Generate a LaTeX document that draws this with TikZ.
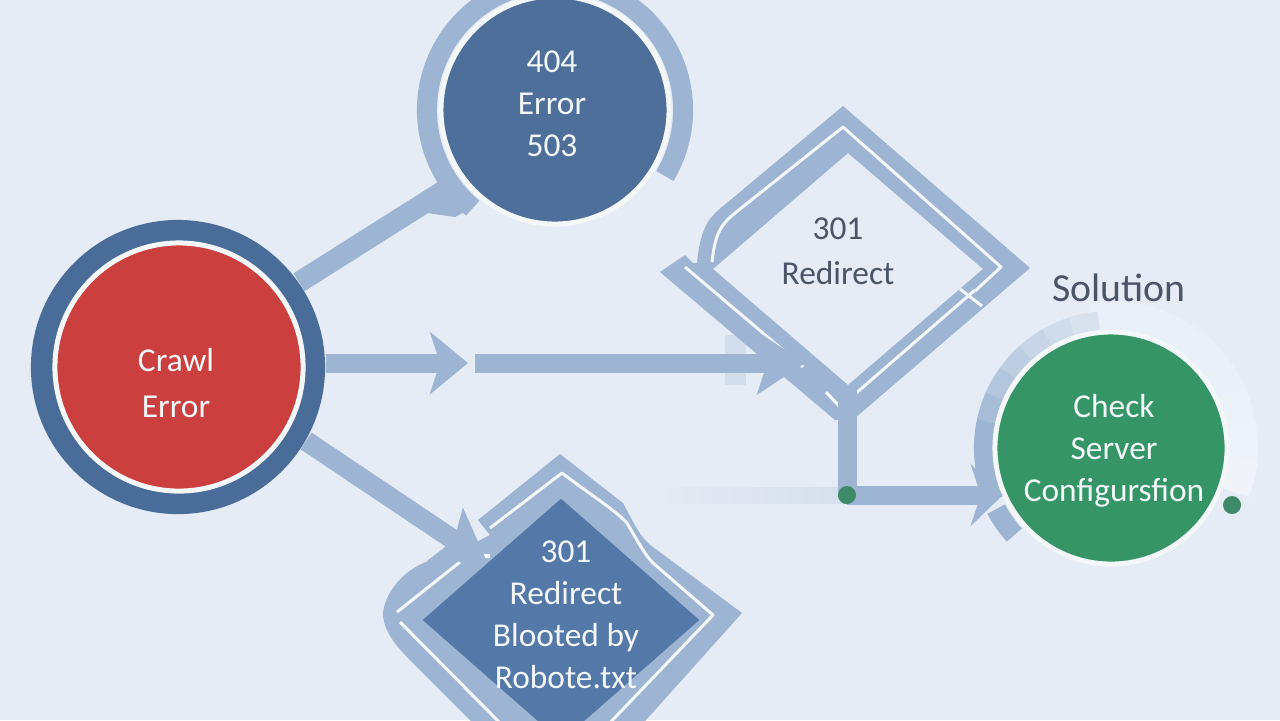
\documentclass[tikz,border=0pt]{standalone}
\usepackage{fontspec}
\setmainfont{Carlito}
\usetikzlibrary{arrows.meta,shapes.geometric}
\definecolor{bgc}{HTML}{E5ECF5}
\definecolor{bandc}{HTML}{9DB5D3}
\definecolor{ringc}{HTML}{4A6C99}
\definecolor{bluec}{HTML}{4F6F9B}
\definecolor{lowc}{HTML}{5478A7}
\definecolor{redc}{HTML}{CB3F3F}
\definecolor{greenc}{HTML}{369567}
\definecolor{dotc}{HTML}{3F8A68}
\definecolor{inkc}{HTML}{4A5568}
\definecolor{paperc}{HTML}{F3F7F8}
\tikzset{
	lbl/.style={align=center, font=\fontsize{9.5}{11.9}\selectfont, inner sep=0pt},
	lblw/.style={lbl, text=paperc},
	lbld/.style={lbl, text=inkc},
	disc/.style={circle, draw=paperc, line width=0.05cm, inner sep=0pt},
	band/.style={draw=bandc, line width=0.19cm},
	head/.style={-{Stealth[length=#1cm,width=0.62cm,inset=0.1cm]}},
	crease/.style={draw=paperc, line width=0.03cm, line join=round},
	spot/.style={circle, fill=dotc, inner sep=0pt, minimum size=0.18cm},
}
\begin{document}
\begin{tikzpicture}[x=0.01cm,y=-0.01cm]
	\clip (0,0) rectangle (1280,720);
	\fill[bgc] (0,0) rectangle (1280,720);
	\shade[left color=bgc, right color=bandc!22!bgc] (640,487) rectangle (845,503);
	\fill[bandc!25!bgc] (725,335) rectangle (746,385);

	\fill[bandc] (697,263) .. controls (700,230) and (708,218) .. (722,207) -- (843,106) -- (1030,268) -- (855,418) -- (835,420) -- (660,272) -- (685,255) -- (693,263) -- cycle;
	\fill[bandc] (478,520) -- (560,454) -- (623,503) .. controls (635,525) and (640,538) .. (653,547) -- (742,613) -- (637,730) -- (480,730) -- (410,660) .. controls (395,645) and (383,630) .. (383,613) .. controls (385,590) and (410,560) .. (447,557) -- (490,535) -- cycle;
	\draw[crease] (712,262) .. controls (715,235) and (720,225) .. (735,213) -- (843,127) -- (1001,267) -- (975,291);
	\draw[crease] (685,267) -- (803,367);
	\draw[crease] (826,392) -- (840,407) -- (975,290);
	\draw[crease] (960,289) -- (982,306);
	\draw[crease] (397,612) -- (460,562);
	\draw[crease] (490,528) -- (562,473) .. controls (595,498) and (615,510) .. (627,523) .. controls (637,540) and (645,555) .. (653,563) -- (713,615) -- (603,730);
	\draw[crease] (400,622) -- (507,730);

	\foreach \a/\m in {100/60, 85/60, 70/60, 55/60, 40/60, 25/45, 10/30, -5/15} {
		\draw[bgc!\m!white!50!bgc, line width=0.3cm] ([shift={(\a:1.3cm)}]1113,447) arc [start angle=\a, delta angle=-15.5, radius=1.3cm];
	}
	\foreach \a/\m in {204/100, 192/100, 180/100, 168/85, 156/70, 144/55, 132/42, 120/30, 108/18} {
		\draw[bandc!\m!bgc, line width=0.2cm] ([shift={(\a:1.27cm)}]1111,448) arc [start angle=\a, delta angle=-12.5, radius=1.27cm];
	}
	\draw[bandc, line width=0.2cm] ([shift={(222:1.3cm)}]1111,448) arc [start angle=222, end angle=208, radius=1.3cm];
	\draw[bandc, line width=0.2cm] ([shift={(-31:1.28cm)}]555,110) arc [start angle=-31, end angle=230, radius=1.28cm];

	\node (crawlring) at (178,367)	[circle, fill=ringc, inner sep=0pt, minimum size=2.94cm]	{};
	\node (crawl) at (179,367)	[disc, fill=redc, minimum size=2.48cm]	{};
	\node (errs) at (555,110)	[disc, fill=bluec, minimum size=2.28cm, outer sep=0.22cm]	{};
	\node (rdtop) at (848,269)	[diamond, fill=bgc, inner sep=0pt, minimum width=2.7cm, minimum height=2.32cm]	{};
	\node (rdlow) at (561,620)	[diamond, fill=lowc, inner sep=0pt, minimum width=2.77cm, minimum height=2.43cm]	{};
	\node (solution) at (1111,448)	[disc, fill=greenc, minimum size=2.32cm]	{};

	\node (crawltxt) at (176,383)	[lblw]	{Crawl\\[0.05cm]Error};
	\node (errstxt) at (552,104)	[lblw]	{404\\Error\\503};
	\node (rdtoptxt) at (838,251)	[lbld]	{301\\[0.03cm]Redirect};
	\node (rdlowtxt) at (566,615)	[lblw]	{301\\Redirect\\Blooted by\\Robote.txt};
	\node (soltitle) at (1119,288)	[lbld, font=\fontsize{11.3}{12}\selectfont]	{Solution};
	\node (soltxt) at (1114,451)	[lblw]	{Check\\Server\\Configursfion};

	\node (elbow) at (847,495)	[spot]	{};
	\node (sidedot) at (1232,505)	[spot]	{};
	\coordinate (gapleft) at (468,363);
	\coordinate (gapright) at (475,363);

	\draw[bandc, line width=0.21cm] (crawlring.35) -- (errs.216);
	\fill[bandc] (427,213) -- (455,217) -- (472,208) -- (445,188) -- cycle;
	\draw[band, head=0.38] (crawlring.east |- gapleft) -- (gapleft);
	\draw[band, head=0.48] (gapright) -- (rdtop.242 |- gapright);
	\draw[crease, line width=0.04cm] (430,558) -- (490,556);
	\draw[bandc, line width=0.2cm, head=0.5] (crawlring.-30) -- (rdlow.142);
	\draw[band] (elbow |- rdtop.south) -- (elbow.center);
	\draw[band, head=0.32] (elbow.center) -- (elbow.center -| solution.204);
	\fill[dotc] (elbow) circle (0.09cm);
\end{tikzpicture}
\end{document}
